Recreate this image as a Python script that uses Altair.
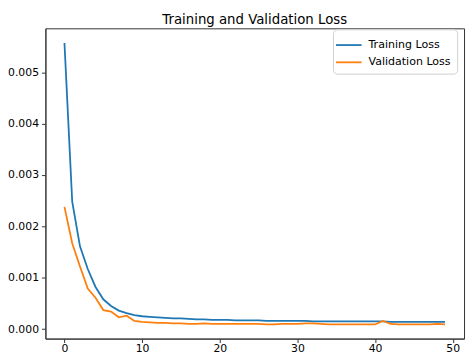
import altair as alt
import pandas as pd

epochs = list(range(50))
training_loss = [
    0.00557, 0.00248, 0.00161, 0.00117, 0.00082, 0.00058, 0.00045, 0.00036, 0.00031, 0.00027,
    0.00025, 0.00024, 0.00023, 0.00022, 0.00021, 0.00021, 0.00020, 0.00019, 0.00019, 0.00018,
    0.00018, 0.00018, 0.00017, 0.00017, 0.00017, 0.00017, 0.00016, 0.00016, 0.00016, 0.00016,
    0.00016, 0.00016, 0.00015, 0.00015, 0.00015, 0.00015, 0.00015, 0.00015, 0.00015, 0.00015,
    0.00015, 0.00015, 0.00014, 0.00014, 0.00014, 0.00014, 0.00014, 0.00014, 0.00014, 0.00014,
]
validation_loss = [
    0.00238, 0.00167, 0.00122, 0.00079, 0.00061, 0.00037, 0.00034, 0.00023, 0.00026, 0.00016,
    0.00014, 0.00013, 0.00012, 0.00012, 0.00011, 0.00011, 0.00010, 0.00010, 0.00011, 0.00010,
    0.00010, 0.00010, 0.00010, 0.00010, 0.00010, 0.00010, 0.00009, 0.00009, 0.00010, 0.00010,
    0.00010, 0.00011, 0.00011, 0.00010, 0.00009, 0.00009, 0.00009, 0.00009, 0.00009, 0.00009,
    0.00009, 0.00016, 0.00010, 0.00009, 0.00009, 0.00009, 0.00009, 0.00009, 0.00010, 0.00009,
]
series_names = ["Training Loss", "Validation Loss"]
series_colors = ["#1f77b4", "#ff7f0e"]

df = pd.DataFrame({
    "epoch": epochs * 2,
    "loss": training_loss + validation_loss,
    "series": [series_names[0]] * len(epochs) + [series_names[1]] * len(epochs),
})

FONT = "DejaVu Sans"
axis_common = dict(title=None, grid=False, tickSize=4, labelFontSize=11, labelFont=FONT,
                   labelColor="black", tickColor="#333333", domainColor="#333333",
                   domainWidth=1, tickWidth=1, labelFlush=False)

chart = alt.Chart(df).mark_line(strokeWidth=1.8).encode(
    x=alt.X("epoch:Q", scale=alt.Scale(domain=[-2.45, 51.45], nice=False, zero=False),
            axis=alt.Axis(values=[0, 10, 20, 30, 40, 50], labelPadding=0, **axis_common)),
    y=alt.Y("loss:Q", scale=alt.Scale(domain=[-0.000185, 0.005855], nice=False, zero=False),
            axis=alt.Axis(values=[0, 0.001, 0.002, 0.003, 0.004, 0.005], format=".3f",
                          labelPadding=3, **axis_common)),
    color=alt.Color("series:N", scale=alt.Scale(domain=series_names, range=series_colors),
                    sort=series_names,
                    legend=alt.Legend(title=None, orient="none", legendX=292, legendY=1,
                                      symbolType="M-1.5,0H1.5",
                                      symbolStrokeWidth=1.8, symbolSize=300,
                                      symbolFillColor="transparent",
                                      labelFont=FONT, labelFontSize=11.2, labelColor="black",
                                      strokeColor="#d0d0d0", cornerRadius=4, padding=6,
                                      fillColor="white", rowPadding=1.5,
                                      labelOffset=10)),
).properties(
    width=425,
    height=315,
    title=alt.TitleParams("Training and Validation Loss", font=FONT, fontSize=13.5,
                          fontWeight="normal", color="black", offset=2),
    padding={"left": 38, "top": 18, "right": 2, "bottom": 13},
    autosize=alt.AutoSizeParams(type="none"),
).configure_view(stroke="#333333", strokeWidth=1)

chart.save("out.html", embed_options={"renderer": "svg", "actions": False})
